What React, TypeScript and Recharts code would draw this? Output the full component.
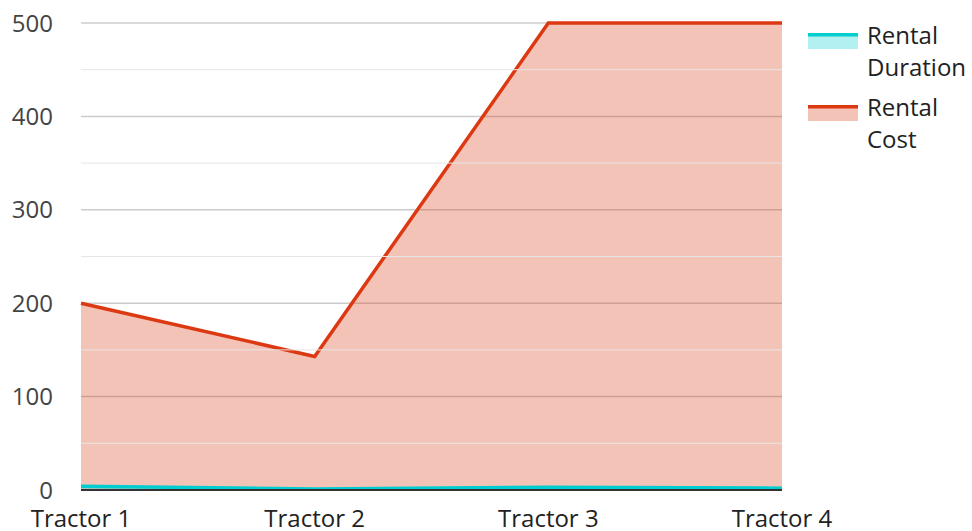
import React from "react";
import { AreaChart, Area, XAxis, YAxis, CartesianGrid, ReferenceLine } from "recharts";

const tractors = ["Tractor 1", "Tractor 2", "Tractor 3", "Tractor 4"];
const rentalDuration = [4, 1, 3, 2];
const rentalCost = [200, 143, 500, 500];
const yTicks = [0, 100, 200, 300, 400, 500];
const minorLines = [50, 150, 250, 350, 450];

const series = [
  { key: "duration", name: "Rental Duration", color: "#00CDD0" },
  { key: "cost", name: "Rental Cost", color: "#DC3912" },
];

const data = tractors.map((t, i) => ({
  name: t,
  duration: rentalDuration[i],
  cost: rentalCost[i],
}));

const font = "'Open Sans', 'Noto Sans', sans-serif";

function LegendBox() {
  return (
    <div
      style={{
        position: "absolute",
        left: 808,
        top: 19,
        fontFamily: font,
        fontSize: 24,
        color: "#222",
        lineHeight: "32px",
      }}
    >
      {series.map((s) => (
        <div key={s.key} style={{ display: "flex", alignItems: "flex-start", marginBottom: 8 }}>
          <svg width={50} height={16} style={{ marginTop: 14, marginRight: 9, flexShrink: 0 }}>
            <rect x={0} y={0} width={50} height={16} fill={s.color} fillOpacity={0.3} />
            <rect x={0} y={0} width={50} height={3.5} fill={s.color} />
          </svg>
          <div style={{ width: 110 }}>
            {s.name.split(" ").map((w) => (
              <div key={w}>{w}</div>
            ))}
          </div>
        </div>
      ))}
    </div>
  );
}

export default function App() {
  return (
    <div style={{ position: "absolute", left: 0, top: 0, width: 972, height: 531, background: "#fff" }}>
      <AreaChart width={972} height={531} data={data} margin={{ top: 23, right: 190, bottom: 11, left: 21 }}>
        <CartesianGrid vertical={false} stroke="#cccccc" strokeWidth={1.5} />
        {minorLines.map((v) => (
          <ReferenceLine key={v} y={v} stroke="#e6e6e6" strokeWidth={1} />
        ))}
        <XAxis
          dataKey="name"
          height={30}
          tickLine={false}
          axisLine={{ stroke: "#333", strokeWidth: 2 }}
          tick={{ fill: "#222", fontSize: 24, fontFamily: font }}
          tickMargin={14}
          interval={0}
        />
        <YAxis
          width={60}
          domain={[0, 500]}
          ticks={yTicks}
          axisLine={false}
          tickLine={false}
          tick={{ fill: "#444", fontSize: 24, fontFamily: font }}
          tickMargin={22}
        />
        <Area
          type="linear"
          dataKey="cost"
          name="Rental Cost"
          stroke="#DC3912"
          strokeWidth={3.5}
          fill="#DC3912"
          fillOpacity={0.3}
          isAnimationActive={false}
        />
        <Area
          type="linear"
          dataKey="duration"
          name="Rental Duration"
          stroke="#00CDD0"
          strokeWidth={3.5}
          fill="#00CDD0"
          fillOpacity={0.3}
          isAnimationActive={false}
        />
      </AreaChart>
      <LegendBox />
    </div>
  );
}
